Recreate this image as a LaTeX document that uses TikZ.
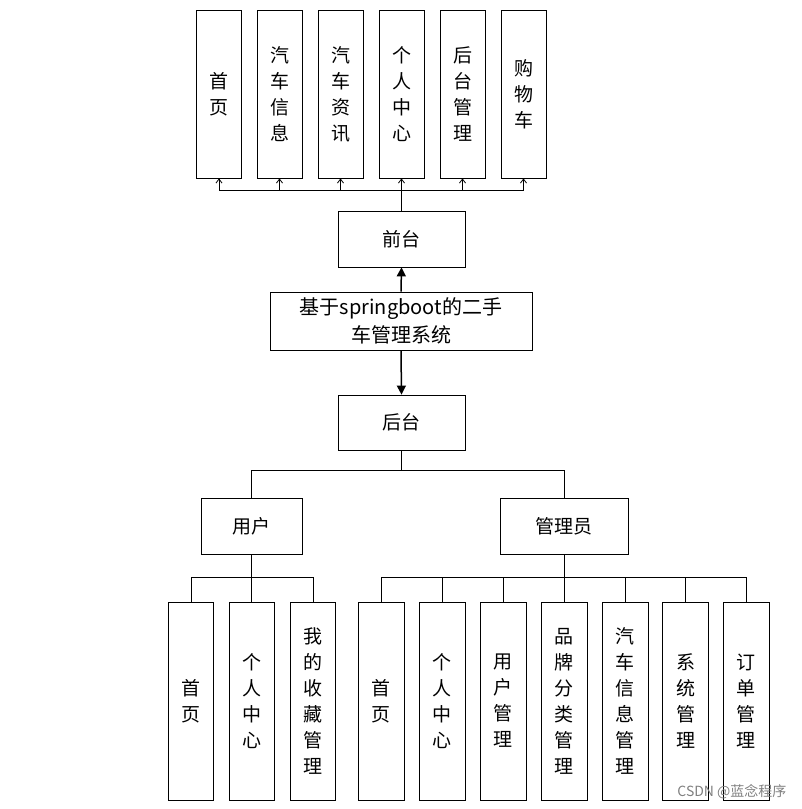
\documentclass[tikz,border=0pt]{standalone}
\usepackage{fontspec}
\newfontfamily\cjk{Noto Sans CJK SC}
\usetikzlibrary{arrows.meta}
\begin{document}
\begin{tikzpicture}[x=1pt,y=-1pt,
  box/.style={draw,line width=0.8pt,inner sep=0pt,font=\cjk\fontsize{19}{26}\selectfont,align=center},
  ln/.style={line width=0.8pt},
  sa/.style={ln,-{Straight Barb[length=4pt,width=6pt]}},
  ba/.style={line width=1.5pt,-{Triangle[length=9pt,width=9pt]}}]
\useasboundingbox (0,0) rectangle (801,809);
% top row
\foreach \n/\x/\t in {t1/219/首\\页, t2/279.5/汽\\车\\信\\息, t3/340.5/汽\\车\\资\\讯, t4/401.5/个\\人\\中\\心, t5/462.5/后\\台\\管\\理, t6/523.5/购\\物\\车}
  \node[box,minimum width=45,minimum height=168] (\n) at (\x,94) {\t};
\node[box,minimum width=127,minimum height=56] (qt) at (401.5,239) {前台};
\node[box,minimum width=262,minimum height=58,font=\cjk\fontsize{20}{28}\selectfont] (main) at (401,321) {基于springboot的二手\\车管理系统};
\node[box,minimum width=127,minimum height=55] (ht) at (401.5,422.5) {后台};
\node[box,minimum width=101,minimum height=56] (yh) at (251.5,526) {用户};
\node[box,minimum width=128,minimum height=56] (gl) at (564,526) {管理员};
\foreach \n/\x/\t in {u1/191/首\\页, u2/251.5/个\\人\\中\\心, u3/313/我\\的\\收\\藏\\管\\理}
  \node[box,minimum width=45,minimum height=198] (\n) at (\x,701) {\t};
\foreach \n/\x/\t in {a1/381/首\\页, a2/442/个\\人\\中\\心, a3/503/用\\户\\管\\理, a4/564/品\\牌\\分\\类\\管\\理, a5/625/汽\\车\\信\\息\\管\\理, a6/685.5/系\\统\\管\\理, a7/746/订\\单\\管\\理}
  \node[box,minimum width=46,minimum height=198] (\n) at (\x,701) {\t};
% top bus
\coordinate (bt) at (401.5,190);
\draw[ln] (qt.north) -- (bt);
\draw[ln] (t1.south |- bt) -- (t6.south |- bt);
\foreach \n in {t1,t2,t3,t4,t5,t6} \draw[sa] (\n.south |- bt) -- (\n.south);
\draw[ba] (main.north) -- (qt.south);
\draw[ba] (main.south) -- (ht.north);
% lower
\coordinate (b2) at (401.5,470);
\draw[ln] (ht.south) -- (b2);
\draw[ln] (yh.north |- b2) -- (gl.north |- b2);
\draw[ln] (yh.north |- b2) -- (yh.north);
\draw[ln] (gl.north |- b2) -- (gl.north);
\coordinate (b3) at (0,577);
\draw[ln] (yh.south) -- (yh.south |- b3);
\draw[ln] (u1.north |- b3) -- (u3.north |- b3);
\foreach \n in {u1,u2,u3} \draw[ln] (\n.north |- b3) -- (\n.north);
\draw[ln] (gl.south) -- (gl.south |- b3);
\draw[ln] (a1.north |- b3) -- (a7.north |- b3);
\foreach \n in {a1,a2,a3,a4,a5,a6,a7} \draw[ln] (\n.north |- b3) -- (\n.north);
\node[font=\cjk\fontsize{14}{16}\selectfont,text=gray,anchor=east] (wm) at (790,792) {CSDN @蓝念程序};
\end{tikzpicture}
\end{document}
